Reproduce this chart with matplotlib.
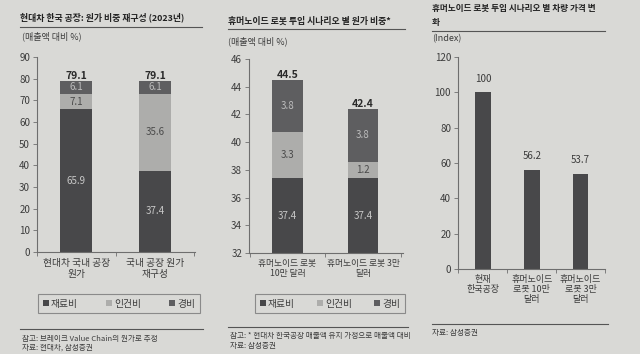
import matplotlib
matplotlib.use('Agg')
import matplotlib.pyplot as plt
from matplotlib.lines import Line2D

plt.rcParams['font.family'] = ['Noto Sans CJK KR', 'DejaVu Sans']
plt.rcParams['axes.unicode_minus'] = False

# 패널 1: 현대차 한국 공장 원가 비중 재구성
p1_cats = ['현대차 국내 공장\n원가', '국내 공장 원가\n재구성']
p1_mat = [65.9, 37.4]
p1_labor = [7.1, 35.6]
p1_exp = [6.1, 6.1]
p1_total = [79.1, 79.1]

# 패널 2: 휴머노이드 로봇 투입 시나리오 별 원가 비중
p2_cats = ['휴머노이드 로봇\n10만 달러', '휴머노이드 로봇 3만\n달러']
p2_mat = [37.4, 37.4]
p2_labor = [3.3, 1.2]
p2_exp = [3.8, 3.8]
p2_total = [44.5, 42.4]

# 패널 3: 차량 가격 변화 (Index)
p3_cats = ['현재\n한국공장', '휴머노이드\n로봇 10만\n달러', '휴머노이드\n로봇 3만\n달러']
p3_vals = [100, 56.2, 53.7]

legend_names = ['재료비', '인건비', '경비']

BG = '#d9d9d6'
C_MAT = '#48484a'
C_LAB = '#adadab'
C_EXP = '#5e5e60'
TXT = '#3c3c3c'
AX = '#6e6e6e'

W, H = 640, 354
fig = plt.figure(figsize=(6.4, 3.54), dpi=100, facecolor=BG)


def px_axes(x0, y0, x1, y1):
    return fig.add_axes([x0 / W, 1 - y1 / H, (x1 - x0) / W, (y1 - y0) / H])


def ftext(x, y, s, **kw):
    fig.text(x / W, 1 - y / H, s, va='center', ha=kw.pop('ha', 'left'),
             color=kw.pop('color', TXT), **kw)


def hline(x0, x1, y, lw=0.8, color='#555555'):
    fig.add_artist(Line2D([x0 / W, x1 / W], [1 - y / H, 1 - y / H],
                          transform=fig.transFigure, lw=lw, color=color))


def style_ax(ax, n, xsize=7):
    ax.set_facecolor('none')
    for s in ['top', 'right']:
        ax.spines[s].set_visible(False)
    for s in ['left', 'bottom']:
        ax.spines[s].set_color(AX)
        ax.spines[s].set_linewidth(0.8)
    ax.tick_params(axis='y', labelsize=7, colors=AX, labelcolor=TXT, length=3, width=0.6, pad=2)
    ax.tick_params(axis='x', which='major', length=0, labelsize=xsize, labelcolor=TXT, pad=4)
    ax.set_xticks([i + 0.5 for i in range(-1, n)], minor=True)
    ax.tick_params(axis='x', which='minor', length=3, color=AX, width=0.6)


def stacked(ax, cats, mat, lab, exp, tot, width):
    x = range(len(cats))
    y0 = ax.get_ylim()[0]
    b1 = ax.bar(x, mat, width, color=C_MAT)
    b2 = ax.bar(x, lab, width, bottom=mat, color=C_LAB)
    bottom2 = [m + l for m, l in zip(mat, lab)]
    b3 = ax.bar(x, exp, width, bottom=bottom2, color=C_EXP)
    for i in x:
        ax.text(i, (y0 + mat[i]) / 2, f'{mat[i]}', ha='center', va='center',
                color='#c8c8c8', fontsize=7)
        ax.text(i, mat[i] + lab[i] / 2, f'{lab[i]}', ha='center', va='center',
                color='#4a4a4a', fontsize=7)
        ax.text(i, bottom2[i] + exp[i] / 2, f'{exp[i]}', ha='center', va='center',
                color='#bdbdbd', fontsize=7)
        ax.text(i, tot[i], f'{tot[i]}', ha='center', va='bottom', color='#2a2a2a',
                fontsize=7.5, fontweight='bold')
    ax.set_xticks(list(x))
    ax.set_xticklabels(cats)
    return [b1, b2, b3]


def legend_box(ax, handles, x0, y0, x1, y1):
    lg = ax.legend(handles, legend_names, ncol=3, mode='expand',
                   bbox_to_anchor=(x0 / W, 1 - y1 / H, (x1 - x0) / W, (y1 - y0) / H),
                   bbox_transform=fig.transFigure, loc='center', borderaxespad=0,
                   frameon=True, fancybox=False, fontsize=7, handlelength=0.6,
                   handleheight=0.6, handletextpad=0.2, borderpad=0.5)
    lg.get_frame().set_edgecolor('#777777')
    lg.get_frame().set_linewidth(0.8)
    lg.get_frame().set_facecolor('none')
    for t in lg.get_texts():
        t.set_color(TXT)


# ---- 패널 1 ----
ax1 = px_axes(37, 57, 195, 252)
ax1.set_ylim(0, 90)
ax1.set_yticks(range(0, 91, 10))
ax1.set_xlim(-0.49, 1.51)
h1 = stacked(ax1, p1_cats, p1_mat, p1_labor, p1_exp, p1_total, 0.405)
style_ax(ax1, 2)
legend_box(ax1, h1, 38, 292, 200, 315)
ftext(20, 17, '현대차 한국 공장: 원가 비중 재구성 (2023년)', fontsize=6.4, fontweight='bold', color='#222222')
hline(20, 202, 27)
ftext(22, 36, '(매출액 대비 %)', fontsize=6.5)
hline(20, 203, 329)
ftext(22, 339, '참고: 브레이크 Value Chain의 원가로 추정', fontsize=5.5)
ftext(22, 348, '자료: 현대차, 삼성증권', fontsize=5.5)

# ---- 패널 2 ----
ax2 = px_axes(249, 59, 403, 253)
ax2.set_ylim(32, 46)
ax2.set_yticks(range(32, 47, 2))
ax2.set_xlim(-0.51, 1.53)
h2 = stacked(ax2, p2_cats, p2_mat, p2_labor, p2_exp, p2_total, 0.41)
style_ax(ax2, 2, xsize=6.3)
legend_box(ax2, h2, 255, 293, 405, 314)
ftext(228, 21, '휴머노이드 로봇 투입 시나리오 별 원가 비중*', fontsize=6.4, fontweight='bold', color='#222222')
hline(228, 405, 29)
ftext(228, 41, '(매출액 대비 %)', fontsize=6.5)
hline(228, 408, 327)
ftext(230, 336, '참고: * 현대차 한국공장 매출액 유지 가정으로 매출액 대비', fontsize=5.5)
ftext(230, 346, '자료: 삼성증권', fontsize=5.5)

# ---- 패널 3 ----
ax3 = px_axes(458, 57, 605, 269)
ax3.set_ylim(0, 120)
ax3.set_yticks(range(0, 121, 20))
ax3.set_xlim(-0.51, 2.49)
ax3.bar(range(len(p3_cats)), p3_vals, 0.32, color=C_MAT)
for i, v in enumerate(p3_vals):
    ax3.text(i, v + 5, f'{v}', ha='center', va='bottom', color=TXT, fontsize=7)
ax3.set_xticks(range(len(p3_cats)))
ax3.set_xticklabels(p3_cats)
style_ax(ax3, 3, xsize=6.5)
ftext(432, 8, '휴머노이드 로봇 투입 시나리오 별 차량 가격 변', fontsize=6.2, fontweight='bold', color='#222222')
ftext(432, 22, '화', fontsize=6.2, fontweight='bold', color='#222222')
hline(432, 605, 31)
ftext(432, 39, '(Index)', fontsize=6.5)
hline(432, 608, 324)
ftext(432, 333, '자료: 삼성증권', fontsize=5.5)

fig.savefig('out.png', dpi=100, facecolor=BG)
